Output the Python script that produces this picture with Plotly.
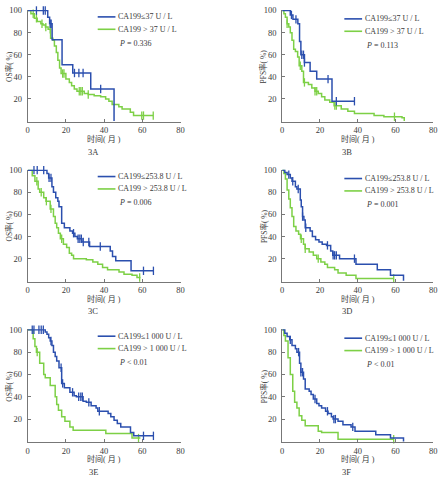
import plotly.graph_objects as go

# Kaplan-Meier steps (time in months, survival in %)
# 3A  OS, cut-off 37 U/L
a_lo_t = [0, 10.5, 11.5, 12.8, 18, 23.6, 33, 45.2]
a_lo_s = [100, 94, 88, 73.5, 51, 43.5, 29, 0]
a_lo_c = [4.6, 8.2, 9.2, 11.8, 12.3, 24.5, 26.8, 29, 38.2]
a_hi_t = [0, 1.7, 3.5, 5, 6.9, 8, 9.3, 10.7, 12, 13.2, 14, 15, 15.8, 16.7, 17.5, 20, 21.8, 23, 24.4, 25.8,
          29.6, 31.7, 34.8, 38.2, 40.8, 42.5, 44.2, 47.7, 49.4, 53.7, 55.4, 65.7]
a_hi_s = [100, 97, 93, 90, 88, 87, 85, 83, 75, 73, 68, 62, 55, 48, 43, 38, 35, 32, 29, 27,
          25, 24, 23, 22, 20, 18, 15, 13, 11, 8, 5, 5]
a_hi_c = [2.9, 4.6, 7.5, 9.5, 11.8, 18.3, 19, 27, 27.8, 28.6, 31.7, 59.7, 60.6, 65.7]

# 3B  PFS, cut-off 37 U/L
b_lo_t = [0, 4.3, 5.7, 8.3, 9.2, 9.9, 11.8, 14.8, 18.3, 26.4, 38.3]
b_lo_s = [100, 96, 92, 88, 72, 60, 53, 45, 38, 18, 18]
b_lo_c = [4.9, 7.3, 10.4, 11.3, 11.8, 24.3, 28.7, 38.3]
b_hi_t = [0, 0.9, 1.7, 2.6, 3.5, 4.3, 5.2, 6.1, 7, 8.2, 9, 10.4, 11.3, 13.9, 15.7, 17.4, 19.1, 20.9,
          22.6, 25.2, 27.5, 31.3, 34.8, 38.3, 48.7, 53.9, 63.5, 64.7]
b_hi_s = [100, 97, 94, 88, 85, 80, 73, 65, 63, 58, 50, 45, 35, 33, 30, 27, 25, 22,
          19, 17, 14, 11, 9, 7, 5, 4, 3, 0]
b_hi_c = [2.6, 9.6, 11.8, 17.4, 18.3, 27.9, 28.7, 59.5]

# 3C  OS, cut-off 253.8 U/L
c_lo_t = [0, 10.1, 11, 12.7, 13.5, 14.7, 15.8, 16.4, 17.8, 19.2, 22.1, 23.5, 24.7, 26, 28.4, 32.4,
          43.2, 44.4, 46.1, 54.1, 65.8]
c_lo_s = [100, 97, 93, 85, 80, 75, 72, 67, 52, 48, 45, 43, 40, 38, 35, 31, 27, 22, 18, 9, 9]
c_lo_c = [3.3, 5, 8.4, 11.2, 12.2, 24, 26.4, 27.3, 28.1, 29.1, 32, 38, 60.6, 65.8]
c_hi_t = [0, 2.4, 3.8, 5.5, 6.3, 8.4, 9.6, 11.8, 13.5, 14.4, 15.2, 16.1, 17.1, 18.7, 20.4, 21.8, 23,
          24, 30.7, 34.1, 36.7, 39.2, 41.8, 47.8, 50.4, 54.6, 57.2, 59]
c_hi_s = [100, 95, 90, 83, 80, 75, 72, 65, 58, 52, 48, 43, 38, 33, 30, 25, 23,
          20, 19, 17, 15, 12, 10, 8, 6, 5, 3, 3]
c_hi_c = [4.8, 7.1, 9.8, 12.2, 17.8, 58.6]

# 3D  PFS, cut-off 253.8 U/L
d_lo_t = [0, 1.4, 2.6, 4.3, 5.2, 7, 7.8, 9.6, 10.1, 10.8, 11.5, 12.2, 14.8, 16, 17.7, 19.5, 21.2,
          23.5, 25.7, 26.8, 30.4, 39.1, 50.4, 57.4, 64.3]
d_lo_s = [100, 98, 96, 93, 90, 85, 83, 73, 67, 58, 55, 48, 45, 40, 37, 35, 33,
          32, 27, 23, 20, 15, 10, 5, 0]
d_lo_c = [3.5, 5.6, 8.5, 10.8, 12.5, 24, 27, 27.8, 28.7, 38.3]
d_hi_t = [0, 0.9, 1.7, 2.6, 3.5, 4.3, 5.2, 6.1, 7.3, 8.7, 9.7, 11.3, 12.2, 14.3, 16.5, 18.3, 20.5,
          22.6, 24, 27.8, 29.6, 33.9, 39.1, 59.1]
d_hi_s = [100, 97, 92, 82, 74, 66, 58, 49, 45, 42, 38, 33, 29, 26, 23, 20, 17,
          15, 12, 10, 7, 5, 2, 2]
d_hi_c = [10.1, 12.2, 19.1, 59.1]

# 3E  OS, cut-off 1 000 U/L
e_lo_t = [0, 9.2, 10.1, 11, 11.8, 12.7, 13.5, 14.4, 15.2, 16.4, 17.8, 19.2, 22.1, 24.3, 25.5, 29,
          30.7, 33.2, 35.8, 36.7, 42.1, 43.5, 45.2, 46.9, 48.7, 53.8, 55.5, 65.8]
e_lo_s = [100, 98, 96, 93, 90, 86, 80, 76, 72, 66, 52, 48, 44, 41, 40, 36,
          35, 32, 30, 27, 25, 22, 19, 16, 13, 8, 5, 5]
e_lo_c = [2.4, 3.3, 5.9, 7.1, 8.2, 12.2, 17.5, 18.3, 23.5, 26.7, 27.8, 28.6, 32, 37.5, 60.6, 65.8]
e_hi_t = [0, 2.9, 3.8, 4.6, 6.3, 8.4, 9.2, 11.8, 14.4, 15.2, 16.1, 17.8, 19.5, 22.1, 23.8, 40.9,
          54.6, 59]
e_hi_s = [100, 92, 85, 80, 70, 60, 57, 50, 40, 33, 28, 22, 18, 13, 10, 7, 3, 3]
e_hi_c = [5, 58]

# 3F  PFS, cut-off 1 000 U/L
f_lo_t = [0, 1.4, 2.6, 4, 5.2, 7, 7.8, 9.2, 9.9, 11.3, 12.2, 14.3, 15.3, 16.5, 18.3, 19.5, 20.9,
          23, 24.3, 26.1, 27, 29.6, 32.2, 36.5, 38.6, 49.6, 57.4, 64.3]
f_lo_s = [100, 97, 94, 91, 86, 83, 80, 70, 62, 56, 47, 45, 42, 38, 34, 32, 30,
          27, 25, 22, 20, 18, 15, 13, 9, 6, 3, 0]
f_lo_c = [4.3, 8.7, 9.9, 10.8, 17.4, 24, 27.4, 28.2, 37.4]
f_hi_t = [0, 0.9, 1.7, 3.1, 4.3, 5.6, 6.6, 7.8, 9, 10.4, 12.2, 19.1, 20.9, 29.6, 59.1]
f_hi_s = [100, 95, 90, 75, 60, 45, 35, 30, 23, 19, 14, 9, 8, 2, 2]
f_hi_c = [59.1]

panel_names = ["3A", "3B", "3C", "3D", "3E", "3F"]
y_titles = ["OS率( %)", "PFS率( %)"] * 3
lo_labels = ["CA199≤37 U / L", "CA199≤37 U / L", "CA199≤253.8 U / L", "CA199≤253.8 U / L",
             "CA199≤1 000 U / L", "CA199≤1 000 U / L"]
hi_labels = ["CA199 > 37 U / L", "CA199 > 37 U / L", "CA199 > 253.8 U / L", "CA199 > 253.8 U / L",
             "CA199 > 1 000 U / L", "CA199 > 1 000 U / L"]
p_labels = ["<i>P</i> = 0.336", "<i>P</i> = 0.113", "<i>P</i> = 0.006", "<i>P</i> = 0.001",
            "<i>P</i> < 0.01", "<i>P</i> < 0.01"]

curves = [
    (a_lo_t, a_lo_s, a_lo_c, a_hi_t, a_hi_s, a_hi_c),
    (b_lo_t, b_lo_s, b_lo_c, b_hi_t, b_hi_s, b_hi_c),
    (c_lo_t, c_lo_s, c_lo_c, c_hi_t, c_hi_s, c_hi_c),
    (d_lo_t, d_lo_s, d_lo_c, d_hi_t, d_hi_s, d_hi_c),
    (e_lo_t, e_lo_s, e_lo_c, e_hi_t, e_hi_s, e_hi_c),
    (f_lo_t, f_lo_s, f_lo_c, f_hi_t, f_hi_s, f_hi_c),
]

W, H = 447, 479
BLUE = "#2b4fae"
GREEN = "#7dd046"
FONT = "Liberation Serif, Noto Sans CJK SC"
TXT = "#3a3a3a"

# pixel boxes of the plot areas (left, right) and (top, bottom)
cols = [(26, 181), (284, 437)]
rows = [(6, 119), (167, 280), (328, 442)]


def px(x):
    return x / W


def py(y):
    return 1 - y / H


def step_at(t, s, c):
    # survival value where the censor mark sits
    v = s[0]
    for ti, si in zip(t, s):
        if ti <= c:
            v = si
    return v


def note(x, y, text, size=8, xanchor="center", angle=0):
    fig.add_annotation(x=px(x), y=py(y), xref="paper", yref="paper", text=text, textangle=angle,
                       xanchor=xanchor, yanchor="middle", showarrow=False,
                       font=dict(family=FONT, size=size, color=TXT))


fig = go.Figure()

for i, (lo_t, lo_s, lo_c, hi_t, hi_s, hi_c) in enumerate(curves):
    r, k = divmod(i, 2)
    n = "" if i == 0 else str(i + 1)
    xa, ya = "x" + n, "y" + n
    for t, s, c, col in [(hi_t, hi_s, hi_c, GREEN), (lo_t, lo_s, lo_c, BLUE)]:
        fig.add_trace(go.Scatter(x=t, y=s, xaxis=xa, yaxis=ya, mode="lines",
                                 line=dict(color=col, width=1.5, shape="hv"),
                                 showlegend=False, hoverinfo="skip"))
        fig.add_trace(go.Scatter(x=c, y=[step_at(t, s, v) for v in c], xaxis=xa, yaxis=ya,
                                 mode="markers", cliponaxis=False,
                                 marker=dict(symbol="line-ns", size=6, line=dict(color=col, width=1.3)),
                                 showlegend=False, hoverinfo="skip"))

    x0, x1 = cols[k]
    y0, y1 = rows[r]
    axis = dict(showgrid=False, zeroline=False, showline=True, linecolor="#777", linewidth=1,
                ticks="inside", ticklen=3, tickcolor="#777", tickfont=dict(family=FONT, size=8.5, color=TXT))
    fig.update_layout({
        "xaxis" + n: dict(axis, domain=[px(x0), px(x1)], range=[0, 80], tickvals=[0, 20, 40, 60, 80],
                          anchor=ya, ticklabelstandoff=0),
        "yaxis" + n: dict(axis, domain=[py(y1), py(y0)], range=[-0.8, 100.5], tickvals=[20, 40, 60, 80, 100],
                          anchor=xa, ticklabelstandoff=3),
    })

    # axis titles and panel name
    cx = (x0 + x1) / 2
    note(cx, y1 + 17, "时间( 月 )")
    note(cx - 11, y1 + 30, panel_names[i], size=8.5)
    note(x0 - 19, (y0 + y1) / 2, y_titles[i], size=7.5, angle=-90)

    # legend drawn by hand
    lx = x0 + 71 if k == 0 else x0 + 63
    ly = y0 + 7 if k == 0 else y0 + 9
    for j, (lab, col) in enumerate([(lo_labels[i], BLUE), (hi_labels[i], GREEN)]):
        yy = ly + j * 12.5
        fig.add_shape(type="line", xref="paper", yref="paper", x0=px(lx), x1=px(lx + 18),
                      y0=py(yy), y1=py(yy), line=dict(color=col, width=1.6))
        note(lx + 19, yy, lab, xanchor="left")
    note(lx + 20, ly + 26.5, p_labels[i], xanchor="left")

fig.update_layout(width=W, height=H, margin=dict(l=0, r=0, t=0, b=0),
                  paper_bgcolor="white", plot_bgcolor="white")
# the page's default body margin would shift the whole figure
fig.write_html("out.html", config={"displayModeBar": False},
               post_script="document.body.style.margin='0';")
